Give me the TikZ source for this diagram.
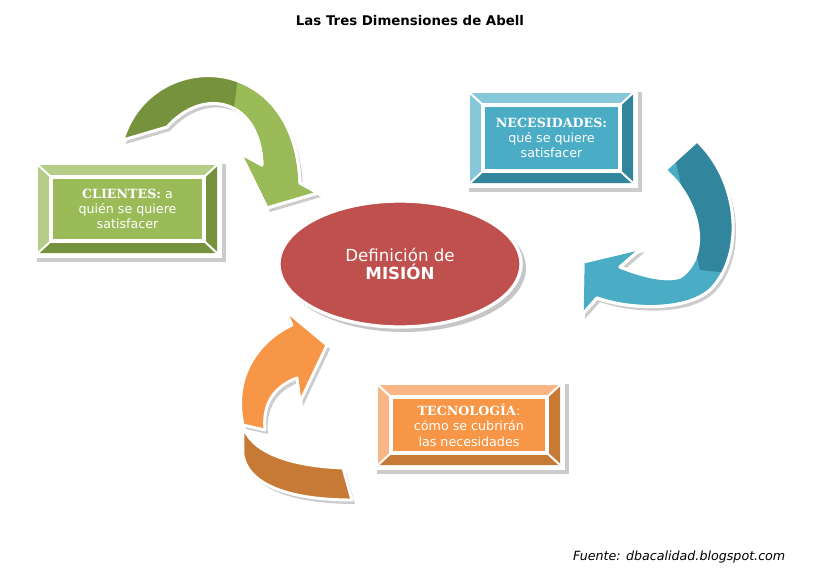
\documentclass[tikz,border=0pt]{standalone}
\usepackage{fontspec}
\setmainfont{DejaVu Sans}
\newfontfamily\bserif{DejaVu Serif}
\begin{document}
\begin{tikzpicture}[x=0.75pt,y=-0.75pt,
  btext/.style={text=white,align=center,font=\fontsize{9.5}{11.5}\selectfont},
  wline/.style={draw=white,line width=2.2pt,line join=round},
  shad/.style={fill=gray!40}]
\useasboundingbox (0,0) rectangle (819,578);
\definecolor{gA}{HTML}{9BBB59}\definecolor{gL}{HTML}{B5CD86}\definecolor{gD}{HTML}{76923C}
\definecolor{tA}{HTML}{4BACC6}\definecolor{tL}{HTML}{86C8DA}\definecolor{tD}{HTML}{31859C}
\definecolor{oA}{HTML}{F79646}\definecolor{oL}{HTML}{F9B585}\definecolor{oD}{HTML}{C77A36}
\definecolor{rA}{HTML}{C0504D}
\newcommand\bevbox[7]{%
  \fill[gray!40] (#1+4,#2+4) rectangle (#3+4,#4+4);
  \fill[white] (#1,#2) rectangle (#3,#4);
  \fill[#5] (#1+5,#2+5) -- (#3-5,#2+5) -- (#3-18,#2+17) -- (#1+18,#2+17) -- cycle;
  \fill[#5] (#1+5,#2+5) -- (#1+18,#2+17) -- (#1+18,#4-17) -- (#1+5,#4-5) -- cycle;
  \fill[#6] (#1+5,#4-5) -- (#1+18,#4-17) -- (#3-18,#4-17) -- (#3-5,#4-5) -- cycle;
  \fill[#6] (#3-5,#2+5) -- (#3-18,#2+17) -- (#3-18,#4-17) -- (#3-5,#4-5) -- cycle;
  \fill[#7] (#1+18,#2+17) rectangle (#3-18,#4-17);
  \draw[white,line width=1.5pt] (#1+5,#2+5) -- (#1+18,#2+17) (#3-5,#2+5) -- (#3-18,#2+17)
     (#1+5,#4-5) -- (#1+18,#4-17) (#3-5,#4-5) -- (#3-18,#4-17);
  \draw[white,line width=2.5pt] (#1+18,#2+17) rectangle (#3-18,#4-17);
}
\node[font=\bfseries\fontsize{10}{12}\selectfont] (title) at (410,21) {Las Tres Dimensiones de Abell};
% green arrow
\def\gpath{(123,140) .. controls (150,48) and (295,48) .. (300,183) -- (318,193) -- (267,208) -- (240,153) -- (262,165) .. controls (260,100) and (205,85) .. (167,127) -- cycle}
\fill[shad,shift={(3,4)}] \gpath;
\filldraw[wline,fill=gA] \gpath;
\begin{scope}
\clip (0,0) -- (248,0) -- (222,200) -- (0,200) -- cycle;
\fill[gD] \gpath;
\end{scope}
\draw[wline] \gpath;
% teal arrow
\def\tpath{(665,170) .. controls (700,200) and (712,255) .. (680,277) .. controls (665,282) and (640,275) .. (620,267) -- (642,248) -- (583,262) -- (582,315) -- (597,298) .. controls (630,310) and (690,312) .. (713,287) .. controls (745,250) and (738,180) .. (697,141) -- cycle}
\fill[shad,shift={(3,4)}] \tpath;
\filldraw[wline,fill=tA] \tpath;
\begin{scope}
\clip (640,0) -- (800,0) -- (800,280) -- (700,270) -- cycle;
\fill[tD] \tpath;
\end{scope}
\draw[wline] \tpath;
% orange arrow
\def\olpath{(243,425) .. controls (250,452) and (290,466) .. (343,468) -- (352,500) .. controls (290,500) and (248,485) .. (243,455) -- cycle}
\def\oupath{(243,425) .. controls (232,375) and (260,340) .. (292,325) -- (285,310) -- (327,345) -- (300,402) -- (297,378) .. controls (278,385) and (262,400) .. (265,430) -- cycle}
\fill[shad,shift={(3,4)}] \olpath;
\filldraw[wline,fill=oD] \olpath;
\fill[shad,shift={(3,4)}] \oupath;
\filldraw[wline,fill=oA] \oupath;
% ellipse
\fill[gray!45] (404,268) ellipse (122 and 64);
\filldraw[white,line width=2.5pt,fill=rA] (400,264) ellipse (121 and 63);
\node[text=white,align=center,font=\fontsize{12.5}{15}\selectfont] (mision) at (400,264) {Definición de\\[-1pt]\textbf{MISIÓN}};
% boxes
\bevbox{33}{160}{222}{258}{gL}{gD}{gA}
\node[btext] (clientes) at (127.5,209) {{\bserif\bfseries CLIENTES:} a\\quién se quiere\\satisfacer};
\bevbox{465}{88}{638}{188}{tL}{tD}{tA}
\node[btext] (necesidades) at (551.5,138) {{\bserif\bfseries NECESIDADES:}\\qué se quiere\\satisfacer};
\bevbox{373}{380}{565}{470}{oL}{oD}{oA}
\node[btext] (tecnologia) at (469,425) {{\bserif\bfseries TECNOLOGÍA}:\\cómo se cubrirán\\las necesidades};
\node[font=\itshape\fontsize{9.5}{11}\selectfont,anchor=east] (fuente) at (790,557) {Fuente: dbacalidad.blogspot.com};
\end{tikzpicture}
\end{document}
